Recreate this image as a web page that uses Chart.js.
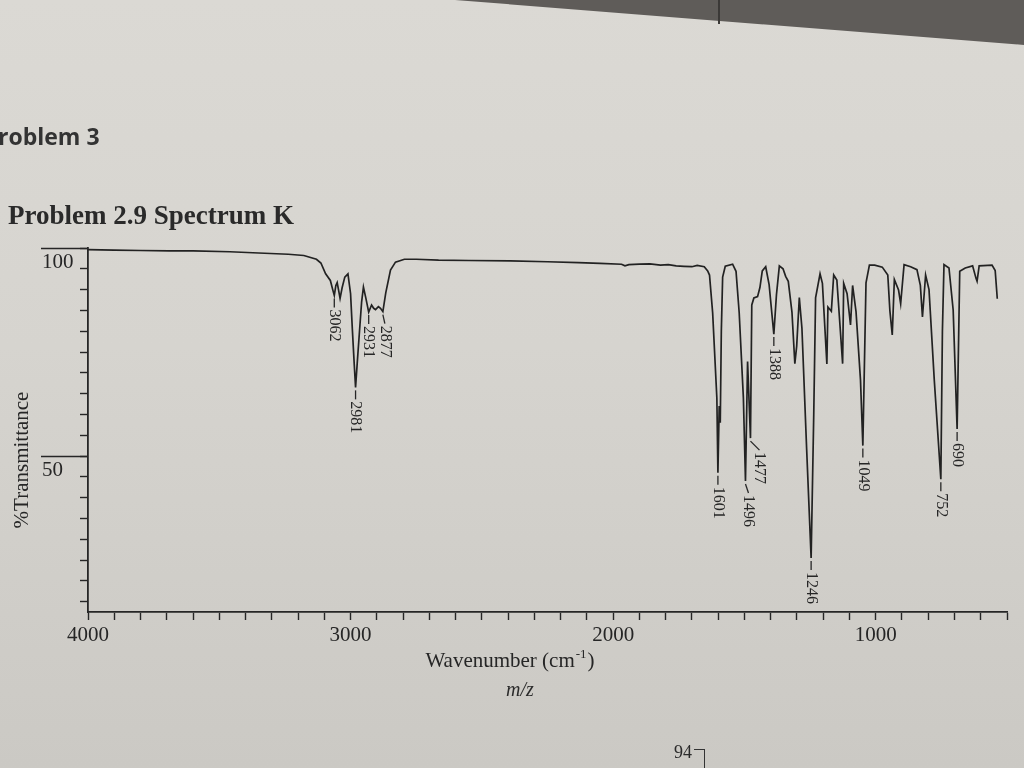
<!DOCTYPE html>
<html>
<head>
<meta charset="utf-8">
<script src="https://cdn.jsdelivr.net/npm/chart.js@4.4.1/dist/chart.umd.min.js"></script>
<style>
  html, body { margin: 0; padding: 0; }
  body {
    width: 1024px; height: 768px; overflow: hidden; position: relative;
    background: linear-gradient(180deg, #dbd9d4 0%, #d6d4cf 45%, #cbc9c4 100%);
    font-family: "Liberation Serif", "Times New Roman", serif;
    color: #2b2b2b;
  }
  #shade {
    position: absolute; left: 0; top: 0; width: 1024px; height: 50px;
    background: #5f5c59;
    clip-path: polygon(455px 0, 1024px 0, 1024px 45px);
  }
  #seam { position: absolute; left: 718px; top: 0; width: 2px; height: 24px; background: #3b3937; }
  #chart { position: absolute; left: 0; top: 0; }
  .txt { position: absolute; white-space: nowrap; line-height: 1; }
  #hdr { left: -2px; top: 120px; font: bold 23px "Open Sans", "Noto Sans", sans-serif; color: #333; }
  #ttl { left: 8px; top: 200px; font: bold 27px "Liberation Serif", serif; color: #2a2a2a; }
  #mz { left: 506px; top: 678px; font: italic 20px "Liberation Serif", serif; }
  #pg { left: 674px; top: 742px; font: 18px "Liberation Serif", serif; }
  #pgmark { position: absolute; left: 694px; top: 749px; width: 10px; height: 24px;
            border-top: 1.5px solid #333; border-right: 1.5px solid #333; }
</style>
</head>
<body>
<div id="shade"></div>
<div id="seam"></div>
<canvas id="chart" width="1024" height="768"></canvas>
<div class="txt" id="hdr">roblem 3</div>
<div class="txt" id="ttl">Problem 2.9 Spectrum K</div>
<div class="txt" id="mz">m/z</div>
<div class="txt" id="pg">94</div>
<div id="pgmark"></div>
<script>
// --- IRスペクトル K ---

// 波数 (cm-1) と 透過率 (%)
const wavenumbers = [
  4000, 3900, 3800, 3690, 3600, 3460, 3350, 3237, 3178, 3130,
  3113, 3095, 3077, 3068, 3062, 3056, 3051, 3046, 3040, 3032,
  3022, 3010, 3000, 2993, 2986, 2981, 2975, 2966, 2958, 2951,
  2942, 2931, 2920, 2912, 2905, 2894, 2886, 2877, 2866, 2848,
  2829, 2795, 2750, 2665, 2550, 2392, 2250, 2132, 2050, 1968,
  1955, 1940, 1900, 1860, 1820, 1790, 1760, 1730, 1700, 1680,
  1653, 1640, 1633, 1621, 1605, 1601, 1596, 1592, 1588, 1583,
  1573, 1545, 1532, 1520, 1504, 1496, 1488, 1477, 1472, 1464,
  1450, 1441, 1432, 1419, 1406, 1388, 1378, 1367, 1353, 1343,
  1333, 1319, 1308, 1301, 1291, 1281, 1263, 1246, 1236, 1229,
  1212, 1203, 1186, 1182, 1169, 1160, 1148, 1126, 1122, 1109,
  1096, 1088, 1075, 1058, 1049, 1037, 1024, 1004, 975, 954,
  946, 937, 929, 913, 905, 892, 867, 843, 830, 822,
  810, 797, 777, 752, 746, 740, 721, 705, 690, 680,
  659, 631, 618, 614, 606, 557, 545, 537
];
const transmittance = [
  99.6, 99.5, 99.4, 99.3, 99.3, 99.1, 98.8, 98.5, 98.2, 97.3,
  96.4, 93.8, 92.2, 90.0, 88.6, 91.0, 91.7, 90.0, 87.9, 90.5,
  93.0, 93.8, 89.0, 80.2, 72.0, 66.5, 72.0, 80.0, 87.0, 90.6,
  88.0, 84.6, 86.3, 85.5, 85.2, 85.9, 85.5, 84.7, 89.2, 94.7,
  96.6, 97.3, 97.3, 97.1, 97.0, 96.9, 96.7, 96.5, 96.3, 96.1,
  95.7, 96.0, 96.1, 96.2, 95.9, 96.0, 95.7, 95.6, 95.5, 95.8,
  95.5, 94.5, 93.5, 84.4, 63.9, 46.0, 62.0, 58.0, 80.0, 93.0,
  95.6, 96.1, 94.4, 84.5, 64.0, 44.0, 72.7, 54.3, 86.3, 88.0,
  88.3, 90.5, 94.5, 95.5, 91.2, 79.3, 88.8, 95.7, 95.0, 93.2,
  92.0, 84.6, 72.2, 76.4, 88.1, 80.7, 51.6, 25.5, 60.0, 88.0,
  93.8, 91.5, 72.1, 85.8, 84.8, 93.5, 92.3, 72.2, 91.5, 89.0,
  81.5, 91.0, 84.7, 68.3, 52.5, 91.6, 95.9, 95.9, 95.4, 93.5,
  84.9, 79.1, 92.4, 89.9, 86.6, 96.0, 95.5, 94.8, 91.0, 83.4,
  93.5, 90.0, 68.3, 44.4, 80.0, 96.0, 95.2, 85.1, 56.5, 94.4,
  95.2, 95.7, 92.7, 92.0, 95.7, 95.9, 94.6, 87.8
];

// ピーク番号ラベル
const peakLabels = [3062, 2981, 2931, 2877, 1601, 1496, 1477, 1388, 1246, 1049, 752, 690];

// 目盛り
const xTicks = [
  4000, 3900, 3800, 3700, 3600, 3500, 3400, 3300, 3200, 3100,
  3000, 2900, 2800, 2700, 2600, 2500, 2400, 2300, 2200, 2100,
  2000, 1900, 1800, 1700, 1600, 1500, 1400, 1300, 1200, 1100,
  1000, 900, 800, 700, 600, 500
];
const xTickLabels = [4000, 3000, 2000, 1000];
const yTicks = [15, 20, 25, 30, 35, 40, 45, 50, 55, 60, 65, 70, 75, 80, 85, 90, 95, 100];
const yTickLabels = [100, 50];

const INK = '#262626';
const SERIF = '"Liberation Serif", "Times New Roman", serif';

// ラベルのずらし量 (重なり回避)
const labelNudge = { 1496: 3, 1477: 9, 2877: 2 };

const points = wavenumbers.map((w, i) => ({ x: w, y: transmittance[i] }));

// 軸タイトル・ピークラベル描画
const annotatePlugin = {
  id: 'annotate',
  afterDraw(chart) {
    const { ctx, chartArea, scales } = chart;
    const xs = scales.x, ys = scales.y;
    ctx.save();
    ctx.strokeStyle = INK;
    ctx.fillStyle = INK;

    // y軸ラベル上の線
    ctx.lineWidth = 1.3;
    yTickLabels.forEach(v => {
      const y = Math.round(ys.getPixelForValue(v)) + 0.5;
      ctx.beginPath();
      ctx.moveTo(41, y);
      ctx.lineTo(chartArea.left, y);
      ctx.stroke();
    });

    // %Transmittance
    ctx.save();
    ctx.translate(22, 460);
    ctx.rotate(-Math.PI / 2);
    ctx.font = '21px ' + SERIF;
    ctx.textAlign = 'center';
    ctx.textBaseline = 'middle';
    ctx.fillText('%Transmittance', 0, 0);
    ctx.restore();

    // Wavenumber (cm-1)
    ctx.font = '21px ' + SERIF;
    ctx.textBaseline = 'alphabetic';
    ctx.textAlign = 'left';
    const a = 'Wavenumber (cm', b = '-1', c = ')';
    const wa = ctx.measureText(a).width;
    ctx.font = '13px ' + SERIF;
    const wb = ctx.measureText(b).width;
    ctx.font = '21px ' + SERIF;
    const wc = ctx.measureText(c).width;
    let tx = 510 - (wa + wb + wc + 2) / 2;
    const ty = 667;
    ctx.fillText(a, tx, ty);
    ctx.font = '13px ' + SERIF;
    ctx.fillText(b, tx + wa + 1, ty - 9);
    ctx.font = '21px ' + SERIF;
    ctx.fillText(c, tx + wa + wb + 2, ty);

    // ピーク番号
    ctx.font = '16px ' + SERIF;
    ctx.lineWidth = 1.3;
    peakLabels.forEach(p => {
      const i = wavenumbers.indexOf(p);
      if (i < 0) return;
      const x = xs.getPixelForValue(p);
      const y = ys.getPixelForValue(transmittance[i]);
      const dx = labelNudge[p] || 0;
      ctx.beginPath();
      ctx.moveTo(x, y + 3);
      ctx.lineTo(x + dx, y + 12);
      ctx.stroke();
      ctx.save();
      ctx.translate(x + dx, y + 14);
      ctx.rotate(Math.PI / 2);
      ctx.textAlign = 'left';
      ctx.textBaseline = 'middle';
      ctx.fillText(String(p), 0, 0);
      ctx.restore();
    });
    ctx.restore();
  }
};

new Chart(document.getElementById('chart').getContext('2d'), {
  type: 'line',
  data: {
    datasets: [{
      data: points,
      borderColor: '#222222',
      borderWidth: 1.7,
      pointRadius: 0,
      tension: 0,
      fill: false
    }]
  },
  options: {
    responsive: false,
    animation: false,
    devicePixelRatio: 1,
    layout: { padding: { left: 42, right: 17, top: 248, bottom: 0 } },
    plugins: {
      legend: { display: false },
      tooltip: { enabled: false },
      title: { display: false }
    },
    scales: {
      x: {
        type: 'linear',
        reverse: true,
        min: 500,
        max: 4000,
        afterBuildTicks: axis => { axis.ticks = xTicks.map(v => ({ value: v })); },
        afterFit: axis => { axis.height = 156; },
        grid: { drawOnChartArea: false, drawTicks: true, tickLength: 8, tickColor: INK, tickWidth: 1.4 },
        border: { display: true, color: INK, width: 1.8 },
        ticks: {
          autoSkip: false, maxRotation: 0, minRotation: 0, padding: 3,
          color: INK, font: { family: SERIF, size: 21 },
          callback: v => xTickLabels.includes(v) ? String(v) : ''
        }
      },
      y: {
        type: 'linear',
        min: 12.5,
        max: 100,
        afterBuildTicks: axis => { axis.ticks = yTicks.map(v => ({ value: v })); },
        afterFit: axis => { axis.width = 46; },
        grid: { drawOnChartArea: false, drawTicks: true, tickLength: 8, tickColor: INK, tickWidth: 1.4 },
        border: { display: true, color: INK, width: 1.8 },
        ticks: {
          autoSkip: false, crossAlign: 'far', labelOffset: 14,
          color: INK, font: { family: SERIF, size: 21 },
          callback: v => yTickLabels.includes(v) ? String(v) : ''
        }
      }
    }
  },
  plugins: [annotatePlugin]
});
</script>
</body>
</html>
